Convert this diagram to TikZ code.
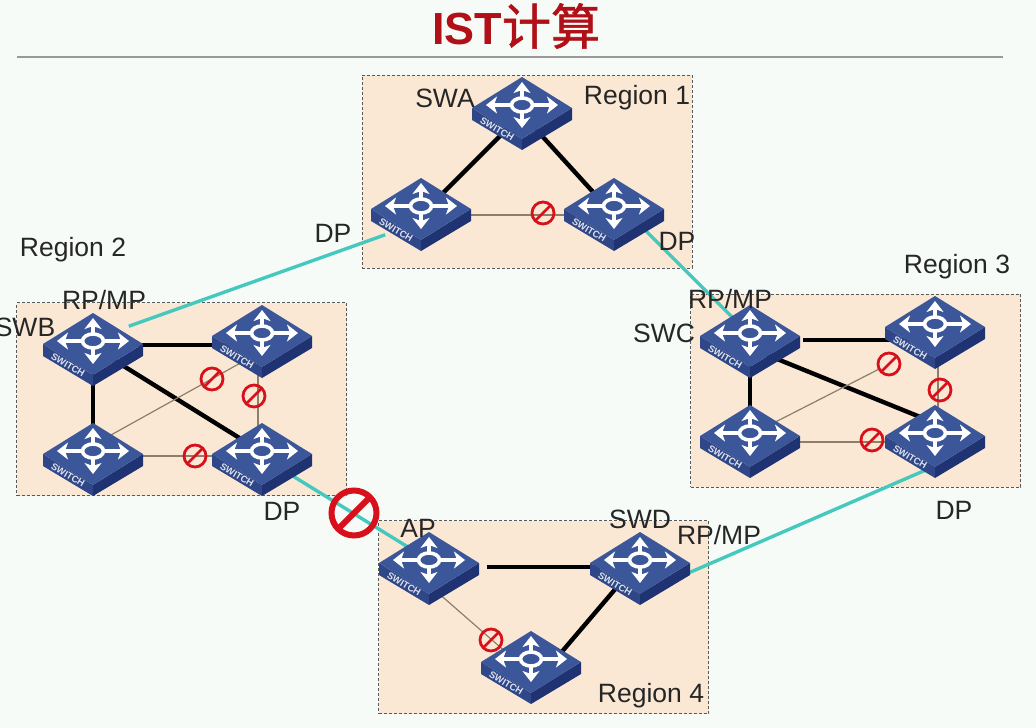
\documentclass[tikz,border=0pt]{standalone}
\usepackage{fontspec}
\setmainfont{Liberation Sans}
\newfontfamily\cjk[FakeBold=1.2]{Noto Sans CJK SC}
\usetikzlibrary{positioning,arrows.meta,backgrounds}

\definecolor{pagebg}{HTML}{F6FBF7}
\definecolor{regionbg}{HTML}{FAE8D4}
\definecolor{swtop}{HTML}{3B5699}
\definecolor{swleft}{HTML}{2F4788}
\definecolor{swright}{HTML}{1F3272}
\definecolor{titlered}{HTML}{B01018}
\definecolor{stopred}{HTML}{D8101C}
\definecolor{isl}{HTML}{45C9BF}
\definecolor{thinlink}{HTML}{8C7F68}

\newcommand{\switchicon}{%
  \begin{scope}[shift={(path picture bounding box.center)}]
    \fill[swleft] (-50,-6) -- (0,25) -- (0,36) -- (-50,6) -- cycle;
    \fill[swright] (50,-6) -- (0,25) -- (0,36) -- (50,6) -- cycle;
    \fill[swtop] (0,-37) -- (50,-6) -- (0,25) -- (-50,-6) -- cycle;
    \draw[white, line width=3.4pt, <->, >={Stealth[length=11pt,width=17pt,inset=3pt]}] (-36,-9) -- (36,-9);
    \draw[white, line width=3.4pt, <->, >={Stealth[length=11pt,width=17pt,inset=3pt]}] (0,-32) -- (0,14);
    \draw[white, line width=3.6pt, fill=swtop] (0,-9) ellipse (10.5 and 7);
    \node[anchor=center, rotate=-31, text=white!82!swtop, font=\bfseries\fontsize{9.5}{10}\selectfont, inner sep=0pt] (swtext) at (-25,15) {SWITCH};
  \end{scope}}

\begin{document}
\begin{tikzpicture}[x=1pt,y=-1pt]
  \tikzstyle{tag} = [inner sep=0pt, text=black!85, font=\fontsize{26.5}{27}\selectfont]
  \tikzset{region/.style = {rectangle, draw=black!65, densely dashed, fill=regionbg, minimum width=330pt, minimum height=193pt, inner sep=0pt} }
  \tikzset{switch/.style = {rectangle, minimum width=102pt, minimum height=74pt, inner sep=0pt, outer sep=0pt, path picture={\switchicon}} }
  \tikzset{forbid/.style = {circle, draw=stopred, line width=2.8pt, minimum size=22pt, inner sep=0pt, path picture={\draw[stopred, line width=2.8pt] (path picture bounding box.north east) -- (path picture bounding box.south west);}} }
  \tikzset{bigforbid/.style = {circle, draw=stopred, line width=6pt, minimum size=45pt, inner sep=0pt, path picture={\draw[stopred, line width=6pt] (path picture bounding box.north east) -- (path picture bounding box.south west);}} }
  \tikzset{trunk/.style = {line width=4.4pt, black} }
  \tikzset{thinline/.style = {line width=1.2pt, thinlink} }
  \tikzset{intercon/.style = {line width=3.4pt, isl} }

  \useasboundingbox (0,0) rectangle (1036,728);

  \node[text=titlered, inner sep=0pt, font=\bfseries\fontsize{45}{48}\selectfont] (title) at (516,26) {IST{\cjk\mdseries\fontsize{49}{50}\selectfont 计算}};
  \draw[black!40, line width=2.6pt] (17,57) -- (1003,57);

  % region 1
  \node[switch] (swa) at (522,114) {};
  \node[switch] (swe) at (421,215) {};
  \node[switch, right=91pt of swe] (swf) {};
  % region 2
  \node[switch] (swb) at (93,350) {};
  \node[switch, right=67pt of swb, yshift=8pt] (swg) {};
  \node[switch, below=36pt of swb] (swh) {};
  \node[switch, right=67pt of swh] (swi) {};
  % region 3
  \node[switch] (swc) at (750,342) {};
  \node[switch, right=83pt of swc, yshift=9pt] (swj) {};
  \node[switch, below=26pt of swc] (swk) {};
  \node[switch, right=83pt of swk] (swl) {};
  % region 4
  \node[switch] (ap) at (429,569) {};
  \node[switch, right=109pt of ap] (swd) {};
  \node[switch] (swm) at (531,668) {};

  \node[forbid] (stopa) at (543,213) {};
  \node[forbid] (stopb) at (212,379) {};
  \node[forbid] (stopc) at (254,396) {};
  \node[forbid] (stopd) at (195,456) {};
  \node[forbid] (stope) at (889,364) {};
  \node[forbid] (stopf) at (940,390) {};
  \node[forbid] (stopg) at (872,440) {};
  \node[forbid] (stoph) at (491,640) {};
  \node[bigforbid] (stopbig) at (354,513) {};

  \begin{scope}[on background layer]
    \fill[pagebg] (0,0) rectangle (1036,728);
    \node[region] (regiona) at (527,171.5) {};
    \node[region] (regionb) at (181.5,399) {};
    \node[region] (regionc) at (855.5,390.5) {};
    \node[region] (regiond) at (543.5,617) {};

    \draw[trunk] (swa.center) -- (swe.center);
    \draw[trunk] (swa.center) -- (swf.center);
    \draw[thinline] (swe.center) -- (swf.center);

    \draw[trunk] ([yshift=5pt]swb.center) -- ([yshift=-3pt]swg.center);
    \draw[trunk] (swb.center) -- (swh.center);
    \draw[trunk] ([yshift=3pt]swb.center) -- ([yshift=8pt]swi.center);
    \draw[thinline] ([yshift=15pt]swh.center) -- ([yshift=-9pt]swg.center);
    \draw[thinline] ([xshift=-4pt]swg.center) -- ([xshift=-4pt]swi.center);
    \draw[thinline] ([yshift=4pt]swh.center) -- ([yshift=4pt]swi.center);

    \draw[trunk, shorten <=53pt] ([yshift=2pt]swc.center) -- ([yshift=-7pt]swj.center);
    \draw[trunk] ([yshift=-6pt]swc.center) -- ([yshift=19pt]swl.center);
    \draw[trunk] (swc.center) -- (swk.center);
    \draw[thinline] ([yshift=7pt]swk.center) -- (stope);
    \draw[thinline] ([xshift=3pt]swj.center) -- ([xshift=3pt]swl.center);
    \draw[thinline] (swk.center) -- (swl.center);

    \draw[trunk, shorten <=58pt] ([yshift=2pt]ap.center) -- ([yshift=2pt]swd.center);
    \draw[trunk] ([yshift=9pt]swd.center) -- ([yshift=-20pt]swm.center);
    \draw[thinline] ([yshift=-16pt]ap.center) -- ([yshift=-6pt]swm.center);

    \draw[intercon, shorten <=38pt, shorten >=38pt] ([yshift=11pt]swb.center) -- ([yshift=-7pt]swe.center);
    \draw[intercon] ([yshift=16pt]swf.center) -- ([yshift=7pt]swc.center);
    \draw[intercon] ([yshift=3pt]swi.center) -- ([yshift=9pt]ap.center);
    \draw[intercon] ([yshift=-24pt]swl.center) -- ([yshift=-25pt]swd.center);
  \end{scope}

  \node[tag] (swaname) at (445,98) {SWA};
  \node[tag] (regionaname) at (637,98) {Region 1};
  \node[tag] (dpa) at (333,233) {DP};
  \node[tag] (dpb) at (677,241) {DP};
  \node[tag] (regionbname) at (73,250) {Region 2};
  \node[tag] (rpb) at (104,300) {RP/MP};
  \node[tag] (swbname) at (25,327) {SWB};
  \node[tag] (dpc) at (282,511) {DP};
  \node[tag] (apname) at (418,528) {AP};
  \node[tag] (swdname) at (640,519) {SWD};
  \node[tag] (rpd) at (719,535) {RP/MP};
  \node[tag] (regioncname) at (957,267) {Region 3};
  \node[tag] (rpc) at (730,299) {RP/MP};
  \node[tag] (swcname) at (664,333) {SWC};
  \node[tag] (dpd) at (954,510) {DP};
  \node[tag] (regiondname) at (651,696) {Region 4};
\end{tikzpicture}
\end{document}
